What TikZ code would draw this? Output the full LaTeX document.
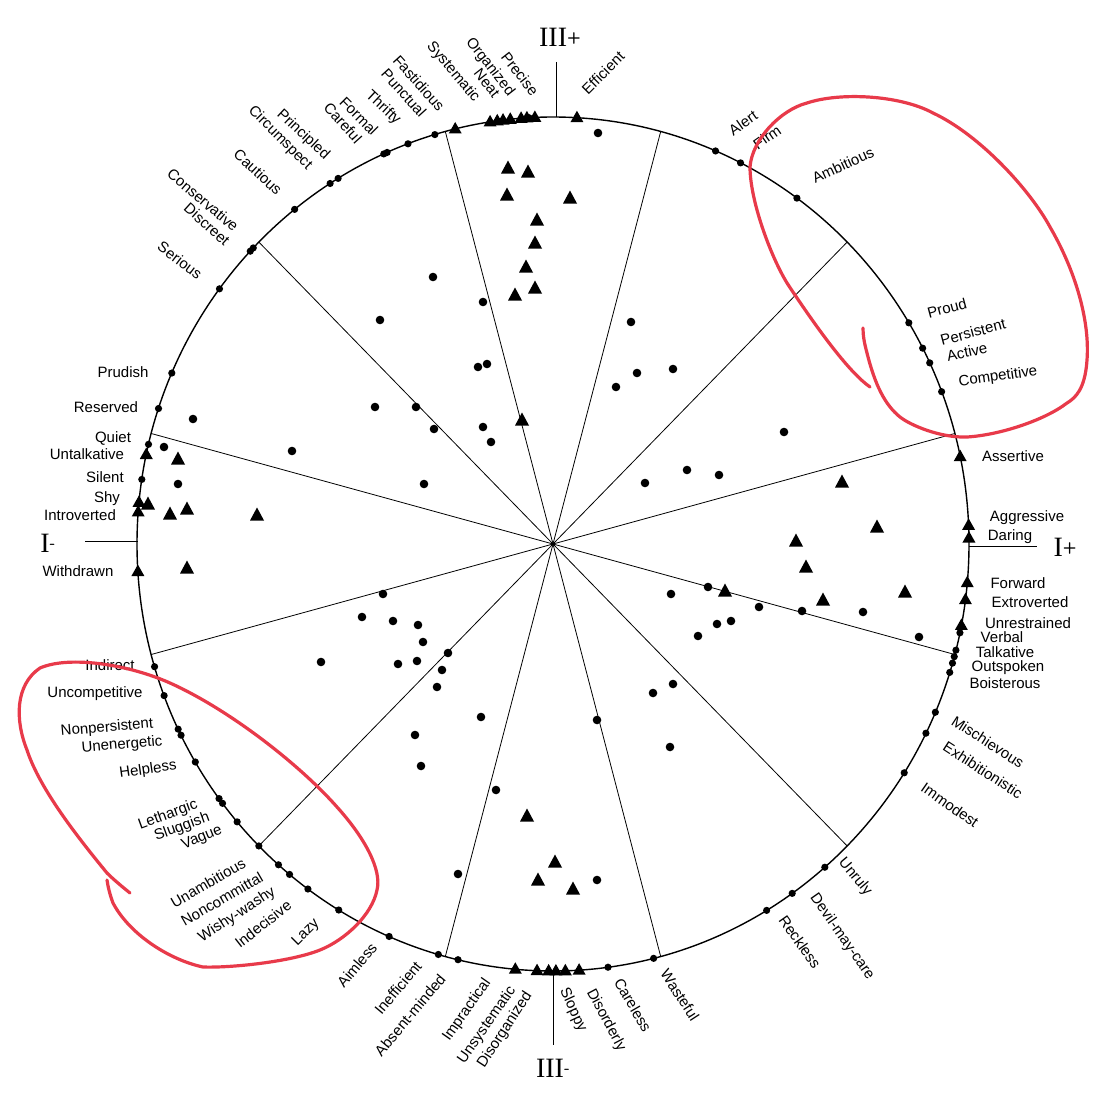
\documentclass[tikz,border=0pt]{standalone}
\usepackage{fontspec}
\setmainfont{Liberation Sans}
\newfontfamily\serf{Liberation Serif}
\definecolor{annred}{RGB}{232,58,74}
\begin{document}
\begin{tikzpicture}[x=1pt,y=1pt]
\tikzset{mylab/.style={font=\fontsize{15}{15}\selectfont, inner sep=0pt},
  myaxl/.style={font=\serf\fontsize{28}{28}\selectfont, inner sep=0pt},
  redann/.style={draw=annred, line width=3.2pt, line cap=round, line join=round}}
\newcommand\MyCD[1]{\fill[shift={(553,-544)}, shift={(#1:416 and 427)}] (0,0) circle (3.6);}
\newcommand\MyCT[1]{\fill[shift={(553,-544)}, shift={(#1:416 and 427)}] (-6.5,-4.5)--(6.5,-4.5)--(0,7)--cycle;}
\newcommand\MyD[2]{\fill (#1,-#2) circle (4.3);}
\newcommand\MyT[2]{\fill[shift={(#1,-#2)}] (-7,-5.5)--(7,-5.5)--(0,7.5)--cycle;}
\useasboundingbox (0,0) rectangle (1116,-1105);
\fill[white] (0,0) rectangle (1116,-1105);
\coordinate (C) at (553,-544);
\draw[line width=1.4pt] (C) ellipse [x radius=416, y radius=427];
\foreach \a in {15,45,...,345} {\draw[line width=0.8pt] (C) -- ++(\a:416 and 427);}
% axis ticks
\draw[line width=1pt] (556,-62) -- (556,-117);
\draw[line width=1pt] (553,-971) -- (553,-1045);
\draw[line width=1pt] (85,-541) -- (138,-541);
\draw[line width=1pt] (969,-546) -- (1037,-546);
\node[myaxl] at (560,-37) {III\raisebox{4pt}{\sffamily\bfseries\fontsize{16}{16}\selectfont+}};
\node[myaxl] at (553,-1068) {III\raisebox{4pt}{\sffamily\bfseries\fontsize{16}{16}\selectfont-}};
\node[myaxl] at (48,-543) {I\raisebox{4pt}{\sffamily\bfseries\fontsize{16}{16}\selectfont-}};
\node[myaxl] at (1065,-547) {I\raisebox{4pt}{\sffamily\bfseries\fontsize{16}{16}\selectfont+}};
% circumference dots
\foreach \a in {143.3,136.7,136.1,128.4,122.4,121.1,114.0,113.5,110.4,106.5,93.3,
  67,63.2,54.1,31.2,27.3,25.1,20.9,-12,-14.4,-15.3,-16.2,-17.5,-23.2,-26.3,-32.4,-49.2,-54.9,-59.1,-76,-82.4,
  -103.2,-106,-113.2,196.7,200.8,205.7,206.6,210.7,216.6,217.4,220.6,225,228.7,230.7,233.9,239,
  156.4,161.5,166.5,171.3} {\MyCD{\a}}
\foreach \a in {103.6,98.7,97.7,96.9,95.9,94.4,93.6,92.5,86.7,11.8,2.5,0.8,-5.2,-7.5,-11,
  -86.4,-88.3,-89.6,-90.6,-92.2,-95.2,167.9,174.4,175.7,183.7} {\MyCT{\a}}
% interior triangles
\foreach \x/\y in {508/168,528/172,507/195,570/198,537/220,535/243,526/267,535/288,515/295,522/420,
  842/482,877/527,796/541,806/567,905/592,823/600,725/591,
  178/459,170/514,187/509,257/515,187/568,148/504,
  527/816,555/862,538/880,573/889} {\MyT{\x}{\y}}
% interior dots
\foreach \x/\y in {598/133,631/322,637/373,616/387,673/369,784/432,645/483,687/470,719/475,
  671/594,708/587,759/607,802/611,863/612,919/637,717/624,731/621,698/636,653/693,673/684,670/747,597/720,
  433/277,483/302,380/320,478/367,487/364,375/407,416/407,434/429,483/427,491/442,424/484,292/451,193/419,164/447,178/484,
  383/594,362/617,393/621,418/625,423/642,321/662,398/664,417/661,448/653,442/670,437/687,
  481/717,415/735,421/766,496/790,458/874,597/880} {\MyD{\x}{\y}}
% top labels
\node[mylab,rotate=-37] at (180,-260) {Serious};
\node[mylab,rotate=-40] at (203,-200) {Conservative};
\node[mylab,rotate=-42] at (207,-224) {Discreet};
\node[mylab,rotate=-43] at (258,-172) {Cautious};
\node[mylab,rotate=-45] at (280,-138) {Circumspect};
\node[mylab,rotate=-43] at (303,-135) {Principled};
\node[mylab,rotate=-48] at (343,-123) {Careful};
\node[mylab,rotate=-45] at (359,-116) {Formal};
\node[mylab,rotate=-43] at (383,-108) {Thrifty};
\node[mylab,rotate=-48] at (404,-93) {Punctual};
\node[mylab,rotate=-48] at (419,-83) {Fastidious};
\node[mylab,rotate=-50] at (453,-72) {Systematic};
\node[mylab,rotate=-52] at (490,-67) {Organized};
\node[mylab,rotate=-52] at (487,-83) {Neat};
\node[mylab,rotate=-52] at (520,-74) {Precise};
\node[mylab,rotate=45] at (603,-73) {Efficient};
% top right
\node[mylab,rotate=35] at (743,-123) {Alert};
\node[mylab,rotate=35] at (767,-137) {Firm};
\node[mylab,rotate=25] at (843,-165) {Ambitious};
\node[mylab,rotate=15] at (947,-308) {Proud};
\node[mylab,rotate=15] at (973,-332) {Persistent};
\node[mylab,rotate=12] at (967,-352) {Active};
\node[mylab,rotate=8] at (998,-377) {Competitive};
\node[mylab] at (1013,-456) {Assertive};
\node[mylab] at (1027,-518) {Aggressive};
\node[mylab] at (1010,-537) {Daring};
\node[mylab] at (1018,-583) {Forward};
\node[mylab] at (1030,-602) {Extroverted};
\node[mylab] at (1028,-623) {Unrestrained};
\node[mylab] at (1002,-637) {Verbal};
\node[mylab] at (1005,-652) {Talkative};
\node[mylab] at (1008,-668) {Outspoken};
\node[mylab] at (1005,-683) {Boisterous};
\node[mylab,rotate=-33] at (988,-742) {Mischievous};
\node[mylab,rotate=-33] at (983,-770) {Exhibitionistic};
\node[mylab,rotate=-35] at (950,-805) {Immodest};
\node[mylab,rotate=-50] at (855,-877) {Unruly};
\node[mylab,rotate=-55] at (842,-937) {Devil-may-care};
\node[mylab,rotate=-55] at (800,-942) {Reckless};
\node[mylab,rotate=-57] at (680,-995) {Wasteful};
\node[mylab,rotate=-60] at (633,-1005) {Careless};
\node[mylab,rotate=-62] at (606,-1020) {Disorderly};
\node[mylab,rotate=-65] at (573,-1010) {Sloppy};
\node[mylab,rotate=57] at (505,-1030) {Disorganized};
\node[mylab,rotate=55] at (487,-1025) {Unsystematic};
\node[mylab,rotate=55] at (467,-1010) {Impractical};
\node[mylab,rotate=50] at (410,-1015) {Absent-minded};
\node[mylab,rotate=50] at (398,-988) {Inefficient};
\node[mylab,rotate=50] at (357,-965) {Aimless};
% left
\node[mylab,rotate=45] at (306,-933) {Lazy};
\node[mylab,rotate=38] at (263,-924) {Indecisive};
\node[mylab,rotate=33] at (237,-915) {Wishy-washy};
\node[mylab,rotate=30] at (222,-899) {Noncommittal};
\node[mylab,rotate=30] at (208,-883) {Unambitious};
\node[mylab,rotate=22] at (202,-838) {Vague};
\node[mylab,rotate=20] at (182,-827) {Sluggish};
\node[mylab,rotate=20] at (168,-815) {Lethargic};
\node[mylab,rotate=8] at (148,-770) {Helpless};
\node[mylab,rotate=5] at (122,-745) {Unenergetic};
\node[mylab,rotate=5] at (107,-728) {Nonpersistent};
\node[mylab] at (95,-694) {Uncompetitive};
\node[mylab] at (110,-665) {Indirect};
\node[mylab] at (78,-571) {Withdrawn};
\node[mylab] at (80,-515) {Introverted};
\node[mylab] at (107,-499) {Shy};
\node[mylab] at (105,-477) {Silent};
\node[mylab] at (87,-454) {Untalkative};
\node[mylab] at (113,-438) {Quiet};
\node[mylab] at (106,-407) {Reserved};
\node[mylab] at (123,-372) {Prudish};
% red annotations
\draw[redann] (870,-387) .. controls (850,-373) and (820,-333) .. (787,-283)
  .. controls (770,-255) and (750,-200) .. (750,-167)
  .. controls (752,-140) and (780,-110) .. (807,-103)
  .. controls (840,-92) and (900,-95) .. (933,-113)
  .. controls (980,-135) and (1030,-190) .. (1050,-227)
  .. controls (1075,-270) and (1090,-320) .. (1087,-360)
  .. controls (1085,-390) and (1075,-398) .. (1067,-403)
  .. controls (1045,-420) and (1000,-435) .. (967,-437)
  .. controls (940,-438) and (910,-425) .. (900,-417)
  .. controls (885,-405) and (875,-385) .. (867,-353)
  .. controls (864,-342) and (863,-335) .. (863,-328);
\draw[redann] (130,-893) .. controls (120,-885) and (112,-878) .. (107,-873)
  .. controls (80,-840) and (40,-790) .. (27,-750)
  .. controls (15,-720) and (15,-685) .. (40,-668)
  .. controls (70,-655) and (130,-665) .. (170,-683)
  .. controls (230,-710) and (300,-765) .. (337,-807)
  .. controls (365,-838) and (382,-870) .. (377,-890)
  .. controls (372,-915) and (345,-940) .. (320,-950)
  .. controls (290,-962) and (230,-968) .. (203,-967)
  .. controls (170,-960) and (130,-935) .. (113,-903)
  .. controls (110,-895) and (108,-887) .. (107,-880);
\end{tikzpicture}
\end{document}
